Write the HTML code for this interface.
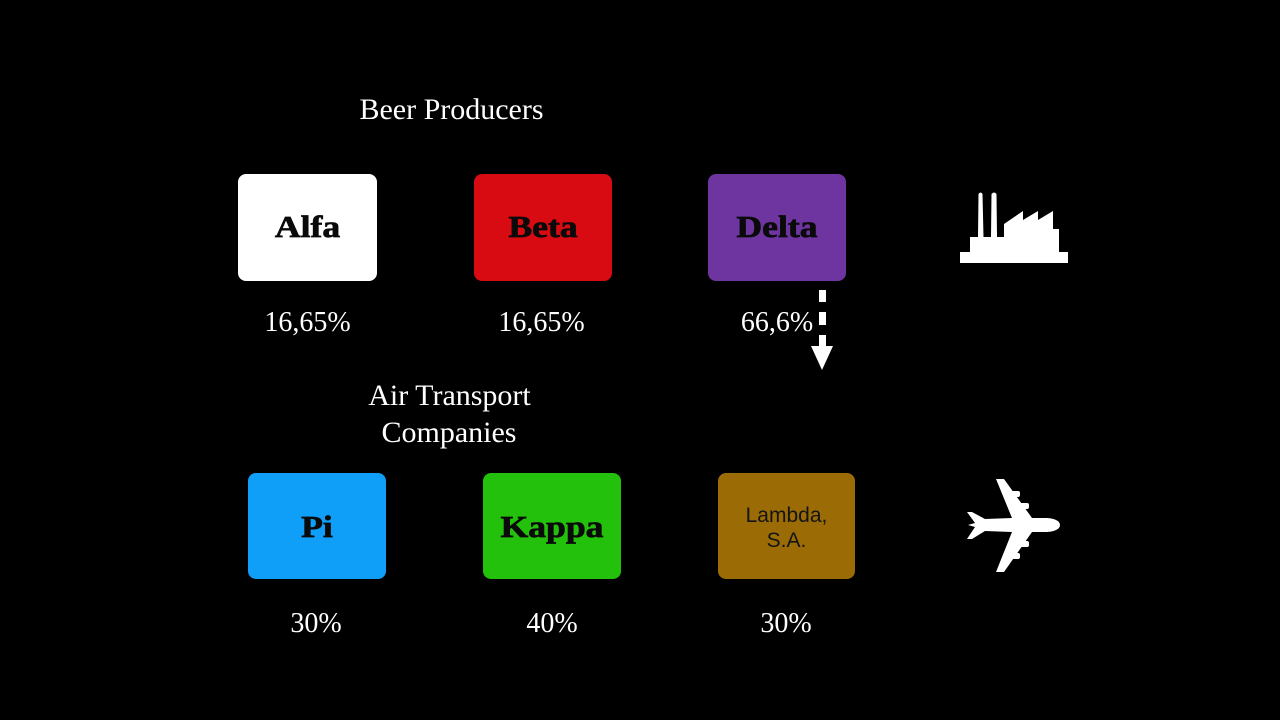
<!DOCTYPE html>
<html>
<head>
<meta charset="utf-8">
<style>
html,body{margin:0;padding:0;background:#000;}
body{width:1280px;height:720px;overflow:hidden;}
svg{display:block;}
.t{font-family:"Liberation Serif",serif;fill:#fff;}
.b{font-family:"Liberation Serif",serif;font-weight:bold;fill:#0a0a0a;font-size:31px;stroke:#0a0a0a;stroke-width:0.7px;}
.p{font-family:"Liberation Serif",serif;fill:#fff;font-size:28px;}
</style>
</head>
<body>
<svg width="1280" height="720" viewBox="0 0 1280 720" xmlns="http://www.w3.org/2000/svg">
<rect width="1280" height="720" fill="#000"/>

<!-- Titles -->
<text class="t" x="451.5" y="119" font-size="30" text-anchor="middle">Beer Producers</text>
<text class="t" x="449.5" y="405" font-size="30" text-anchor="middle">Air Transport</text>
<text class="t" x="449" y="442" font-size="30" text-anchor="middle">Companies</text>

<!-- Top row boxes -->
<rect x="238" y="174" width="139" height="107" rx="8" fill="#ffffff"/>
<rect x="474" y="174" width="138" height="107" rx="8" fill="#d80a12"/>
<rect x="708" y="174" width="138" height="107" rx="8" fill="#6e35a0"/>

<text class="b" text-anchor="middle" transform="translate(307.5,237) scale(1.15,1)">Alfa</text>
<text class="b" text-anchor="middle" transform="translate(543,237) scale(1.15,1)">Beta</text>
<text class="b" text-anchor="middle" transform="translate(777,237) scale(1.15,1)">Delta</text>

<text class="p" x="307.5" y="331" text-anchor="middle">16,65%</text>
<text class="p" x="541.5" y="331" text-anchor="middle">16,65%</text>
<text class="p" x="777" y="331" text-anchor="middle">66,6%</text>

<!-- Dashed arrow -->
<rect x="819" y="290" width="7" height="12" fill="#fff"/>
<rect x="819" y="312" width="7" height="13" fill="#fff"/>
<rect x="819" y="335" width="7" height="12" fill="#fff"/>
<polygon points="811,346 833,346 822,370" fill="#fff"/>

<!-- Factory icon -->
<g fill="#fff">
<rect x="960" y="252" width="108" height="11"/>
<path d="M970,252 L970,237 L978,237 L978.5,194 Q980.5,191 982.5,194 L983.5,237 L991,237 L991.5,194 Q994,191 996.5,194 L997,237 L1004,237 L1004,224 L1023,211 L1023,220 L1038,211 L1038,220 L1053,211 L1053,229 L1059,229 L1059,252 Z"/>
</g>

<!-- Bottom row boxes -->
<rect x="248" y="473" width="138" height="106" rx="8" fill="#109ff8"/>
<rect x="483" y="473" width="138" height="106" rx="8" fill="#24c10c"/>
<rect x="718" y="473" width="137" height="106" rx="8" fill="#9b6c05"/>

<text class="b" text-anchor="middle" transform="translate(317,537) scale(1.15,1)">Pi</text>
<text class="b" text-anchor="middle" transform="translate(552,537) scale(1.15,1)">Kappa</text>
<text x="786.5" y="522" font-family="Liberation Sans, sans-serif" font-size="21" fill="#141414" text-anchor="middle">Lambda,</text>
<text x="786.5" y="547" font-family="Liberation Sans, sans-serif" font-size="21" fill="#141414" text-anchor="middle">S.A.</text>

<text class="p" x="316" y="632" text-anchor="middle">30%</text>
<text class="p" x="552" y="632" text-anchor="middle">40%</text>
<text class="p" x="786" y="632" text-anchor="middle">30%</text>

<!-- Plane icon -->
<g fill="#fff">
<path d="M1060,525 C1060,520 1052,518 1046,518 L1032,518 L1004,479 L996,479 L1012,518 L985,519 L972,512 L967,512 L975,523 L968,525 L975,527 L967,539 L972,539 L985,531 L1012,532 L996,572 L1004,572 L1032,532 L1046,532 C1052,532 1060,530 1060,525 Z"/>
<rect x="1011" y="491" width="9" height="6" rx="2"/>
<rect x="1020" y="503" width="9" height="6" rx="2"/>
<rect x="1020" y="541" width="9" height="6" rx="2"/>
<rect x="1011" y="553" width="9" height="6" rx="2"/>
</g>
</svg>
</body>
</html>
